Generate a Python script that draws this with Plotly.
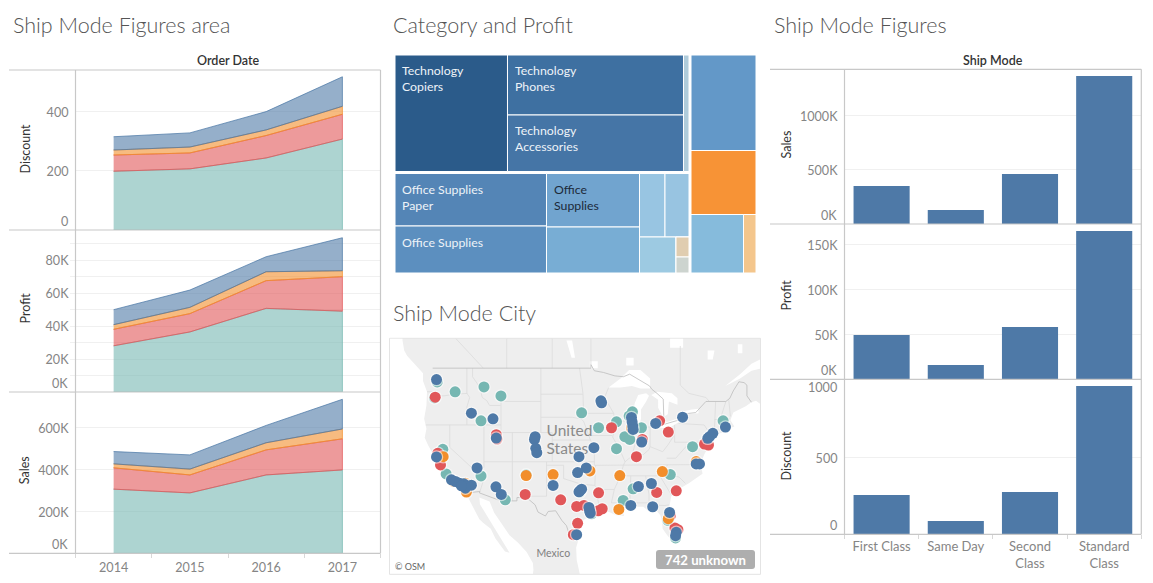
import numpy as np
import plotly.graph_objects as go

W, H = 1153, 583
FONT = "Lato"

# ---------- area panels ----------
years = [2014, 2015, 2016, 2017]
modes = ["Standard Class", "Second Class", "Same Day", "First Class"]
discount_by_mode = {
    "Standard Class": [199, 207, 244, 308],
    "Second Class": [55, 54, 76, 84],
    "Same Day": [17, 20, 19, 27],
    "First Class": [45, 48, 62, 100],
}
profit_by_mode = {
    "Standard Class": [28000, 36400, 50700, 49000],
    "Second Class": [10000, 11100, 16800, 20900],
    "Same Day": [2800, 3800, 5400, 3600],
    "First Class": [9100, 10500, 9100, 20000],
}
sales_by_mode = {
    "Standard Class": [307000, 289000, 375000, 399000],
    "Second Class": [102000, 86000, 120000, 149000],
    "Same Day": [19000, 28000, 34000, 47000],
    "First Class": [59000, 68000, 83000, 142000],
}
mode_colors = {
    "Standard Class": "118,183,178",
    "Second Class": "225,87,89",
    "Same Day": "242,142,43",
    "First Class": "78,121,167",
}

# ---------- bar panels ----------
ship_modes = ["First Class", "Same Day", "Second<br>Class", "Standard<br>Class"]
bar_sales = [349000, 129000, 460000, 1360000]
bar_profit = [49200, 15900, 58100, 164800]
bar_discount = [255, 86, 275, 963]

# ---------- treemap ----------
tm_ids = ["root", "left", "gapA", "furn", "tech", "gapB", "office",
          "techMain", "sliver", "techInner", "copiers", "phoneAcc", "phones", "access",
          "offA", "offB", "offC", "paper", "binders", "supplies", "storage",
          "offC1", "offC2", "c1a", "c1b", "c2a", "offC3", "tan", "gray",
          "furnTop", "furnOrange", "furnB", "furnBlue", "furnTan"]
tm_parents = ["", "root", "root", "root", "left", "left", "left",
              "tech", "tech", "techMain", "techInner", "techInner", "phoneAcc", "phoneAcc",
              "office", "office", "office", "offA", "offA", "offB", "offB",
              "offC", "offC", "offC1", "offC1", "offC2", "offC2", "offC3", "offC3",
              "furn", "furn", "furn", "furnB", "furnB"]
tm_values = [0, 0, 436, 0, 0, 588, 0,
             0, 641, 0, 13106, 0, 10560, 9944,
             0, 0, 0, 7954, 7120, 4976, 4278,
             0, 0, 1619, 1524, 1314, 0, 260, 208,
             6208, 4160, 0, 3071, 731]
tm_colors = ["#ffffff", "#ffffff", "#ffffff", "#ffffff", "#ffffff", "#ffffff", "#ffffff",
             "#ffffff", "#b0ccdb", "#ffffff", "#2b5b8a", "#ffffff", "#3e70a1", "#4575a6",
             "#ffffff", "#ffffff", "#ffffff", "#5485b6", "#5c8fbf", "#71a4cf", "#78add4",
             "#ffffff", "#ffffff", "#98c5e2", "#98c4e1", "#9dcae2", "#ffffff", "#e0cdb0", "#cdd4cf",
             "#6398c8", "#f79336", "#ffffff", "#86bbdc", "#f4c68c"]
tm_labels = ["Technology<br>Copiers", "Technology<br>Phones", "Technology<br>Accessories",
             "Office Supplies<br>Paper", "Office Supplies", "Office<br>Supplies"]

# ---------- map points (lon, projected northing) ----------
teal_lon = [-122.21, -122.68, -119.06, -113.99, -111.01, -114.51, -121.22, -120.64, -114.51, -110.25,
            -96.84, -90.71, -93.86, -87.91, -88.49, -86.33, -89.25, -88.38, -90.71, -77.35, -71.98,
            -81.26, -87.79, -89.54, -95.09, -106.58, -97.13, -81.67, -80.33]
teal_north = [53.69, 50.88, 51.94, 52.81, 51.23, 46.85, 41.82, 37.49, 37.14, 32.93,
              48.25, 46.67, 45.62, 48.43, 47.67, 45.62, 44.04, 43.57, 41.94, 42.29, 46.85,
              37.37, 34.86, 32.81, 30.47, 37.32, 34.28, 29.3, 26.2]
red_lon = [-122.56, -122.1, -121.63, -111.83, -111.71, -91.59, -83.13, -81.61, -86.16, -87.21, -75.25,
           -74.55, -106.75, -100.51, -93.86, -83.65, -80.21, -97.71, -96.43, -93.92, -93.22, -97.54,
           -98.29, -81.26, -80.44, -79.92]
red_north = [51.0, 41.12, 39.07, 44.39, 43.63, 45.62, 46.85, 44.86, 43.57, 40.53, 42.75,
             42.58, 33.87, 32.93, 34.16, 34.22, 34.51, 31.76, 31.94, 31.0, 31.35, 28.78,
             26.79, 30.12, 27.96, 27.67]
orange_lon = [-121.16, -106.58, -101.85, -95.38, -90.13, -82.66, -76.71, -90.3, -81.61, -117.08,
              -119.3, -117.25, -88.08]
orange_north = [40.53, 37.2, 37.37, 38.02, 37.2, 37.9, 39.66, 31.23, 29.6, 34.28,
                36.15, 35.85, 45.62]
blue_lon = [-122.33, -116.2, -112.41, -111.83, -122.33, -115.21, -111.89, -110.95, -105.0, -105.12,
            -104.89, -104.71, -93.45, -93.33, -94.68, -97.3, -96.02, -97.54, -101.85, -97.13, -96.84,
            -97.3, -95.55, -95.44, -95.32, -88.2, -84.35, -86.86, -84.58, -81.38, -80.21, -80.33,
            -97.71, -88.08, -87.97, -87.85, -87.79, -86.28, -83.83, -79.1, -74.37, -73.79, -74.67,
            -71.57, -76.71, -76.13, -119.7, -119.0, -118.3, -117.55, -116.96, -116.2, -117.25, -117.95]
blue_north = [54.1, 48.19, 47.2, 43.81, 40.47, 38.54, 35.21, 33.87, 44.04, 43.57,
              41.99, 41.23, 50.36, 50.01, 42.11, 40.53, 38.54, 37.73, 35.45, 34.51, 34.8,
              34.33, 31.59, 31.0, 30.59, 31.94, 31.7, 35.27, 35.8, 30.71, 27.2, 26.61,
              26.79, 47.43, 46.67, 45.91, 45.33, 43.11, 46.38, 47.49, 44.04, 44.63, 43.75,
              45.74, 39.25, 39.25, 36.44, 36.15, 35.85, 35.74, 35.39, 35.5, 34.98, 35.39]

# ---------- base map outlines (lon, lat) ----------
water_polys = [
    # Pacific and Gulf of California
    [(-128.3, 53), (-128.3, 52.1), (-128, 51), (-127.5, 50.4), (-125.5, 49), (-124.7, 48.4), (-124.7, 47.5),
     (-124, 46.2), (-124.1, 44.5), (-124.5, 42.8), (-124.1, 41.5), (-124.4, 40.3), (-123.8, 39.3), (-122.9, 38),
     (-122.4, 37.5), (-121.9, 36.6), (-120.6, 35), (-119.2, 34.1), (-118.4, 33.8), (-117.2, 32.6), (-116.6, 31.5),
     (-115.8, 30.2), (-114.8, 28.5), (-114.1, 27.9), (-112.8, 27), (-112, 25.5), (-110.3, 23.4), (-109.5, 23.2),
     (-110.7, 25), (-112.5, 27.5), (-113.5, 29), (-114.7, 30.8), (-114.8, 31.8), (-113, 31.2), (-112.2, 29.5),
     (-110.9, 27.9), (-109.5, 26), (-108, 24.8), (-106.5, 23.3), (-105.4, 21.5), (-105.3, 20.4), (-105.5, 19),
     (-132, 19), (-132, 53)],
    # Gulf of Mexico and Atlantic
    [(-97, 19), (-97.7, 22), (-97.8, 24), (-97.2, 25.9), (-97.4, 27.3), (-96.5, 28.4), (-95, 29.2), (-94, 29.7),
     (-92, 29.6), (-90.8, 29.1), (-89.4, 29), (-89.5, 30.2), (-88, 30.4), (-86, 30.4), (-85, 29.7), (-84, 30.1),
     (-83, 29.1), (-82.7, 28), (-82.6, 27), (-81.8, 26), (-81, 25.2), (-80.4, 25.2), (-80, 26.5), (-80.6, 28.3),
     (-81.4, 30.5), (-81.1, 32), (-79.5, 33.2), (-78, 33.9), (-76.6, 34.7), (-75.6, 35.3), (-75.9, 36.8),
     (-75.3, 38), (-74.2, 39.6), (-74, 40.6), (-72, 41), (-70.7, 41.6), (-70, 41.8), (-70.7, 42.6), (-70.2, 43.6),
     (-68, 44.4), (-67, 44.9), (-66.2, 45.1), (-65.5, 44.7), (-64, 44.9), (-64, 19)],
    # St Lawrence
    [(-71.6, 46.9), (-69, 48.3), (-67, 49.5), (-65.5, 50), (-64, 50.3), (-64, 49), (-65, 49), (-67, 48.7),
     (-69, 47.8), (-71.6, 46.9)],
    # Great Lakes
    [(-92.1, 46.7), (-90, 47.8), (-88.5, 48.8), (-86.5, 48.8), (-84.8, 47.8), (-84.8, 46.6), (-86.5, 46.6),
     (-88, 46.9), (-90, 46.7)],
    [(-87.7, 41.7), (-87.9, 43), (-87.5, 44.8), (-86.9, 45.8), (-85.5, 46), (-85, 45.7), (-85.5, 45), (-86.4, 44),
     (-86.4, 42.8), (-86.8, 41.8)],
    [(-84.6, 45.8), (-83.4, 45.2), (-83.4, 44.2), (-82.5, 43), (-81.7, 43.4), (-81.5, 45), (-80, 44.6), (-80, 45.4),
     (-81, 46), (-83.5, 46.2)],
    [(-83.4, 41.7), (-81.7, 41.5), (-79, 42.7), (-79, 42.9), (-80.5, 42.7), (-83, 42.1)],
    [(-79.7, 43.3), (-76.3, 43.5), (-76.3, 44.1), (-77.5, 44), (-79.4, 43.7)],
    # Northern lakes and James Bay
    [(-99.5, 52.1), (-98.5, 52.1), (-98, 50.2), (-98.6, 50.2)],
    [(-95.4, 49.8), (-94, 49.8), (-94, 49), (-95.4, 49)],
    [(-89, 50.2), (-87.7, 50.2), (-87.7, 49.3), (-89, 49.3)],
    [(-81.3, 53), (-79, 53), (-79, 51.3), (-81.3, 51.3)],
    [(-74.7, 51), (-73.5, 51), (-73.8, 50), (-74.7, 50)],
    [(-69.4, 51.7), (-68.6, 51.7), (-68.6, 50.7), (-69.4, 50.7)],
]
national_lines = [
    [(-123, 49), (-95.2, 49), (-95.2, 49.4), (-94.6, 48.7), (-93, 48.5), (-91, 48.1), (-89.5, 48), (-88.4, 48.3),
     (-84.9, 46.9), (-84.5, 46.5), (-83.6, 46), (-82.5, 45.3), (-82.4, 43), (-83, 42.2), (-83.2, 41.9), (-79, 42.8),
     (-79.1, 43.4), (-76.8, 43.6), (-75, 45), (-71.5, 45), (-70.8, 45.4), (-70.2, 46.3), (-69.2, 47.4), (-68.3, 47.3),
     (-67.8, 47), (-67.8, 45.7), (-67, 44.9)],
    [(-117.1, 32.5), (-114.7, 32.7), (-114.8, 32.5), (-111, 31.3), (-108.2, 31.3), (-108.2, 31.8), (-106.5, 31.8),
     (-105, 30.7), (-104.5, 29.6), (-103.2, 29), (-102.7, 29.7), (-101.4, 29.8), (-100.3, 28.3), (-99.5, 27.5),
     (-99.1, 26.4), (-97.2, 25.9)],
]
state_lines = [
    [(-124, 46.2), (-123, 46.2), (-122.8, 45.7), (-121, 45.7), (-119, 45.9), (-116.9, 46)],
    [(-117, 49), (-117, 46), (-116.5, 45.5), (-117, 44.3), (-117, 42)],
    [(-124.2, 42), (-111, 42)],
    [(-120, 42), (-120, 39), (-114.6, 35), (-114.1, 34.3), (-114.7, 32.7)],
    [(-114, 42), (-114, 36.2), (-114.6, 36.1), (-114.6, 35)],
    [(-116, 49), (-116, 48), (-114.7, 46.7), (-114.3, 45.5), (-113.5, 45.1), (-113, 44.5), (-111.1, 44.5)],
    [(-111, 45), (-104, 45)],
    [(-111, 45), (-111, 41), (-102, 41), (-102, 37)],
    [(-109, 41), (-109, 31.3)],
    [(-114, 37), (-94.6, 37)],
    [(-103, 37), (-103, 32), (-106.6, 32)],
    [(-104, 43), (-98.5, 43), (-97, 42.8), (-96.5, 42.5), (-96, 41.5), (-95.3, 40)],
    [(-104, 45.9), (-96.6, 45.9)],
    [(-104, 49), (-104, 41)],
    [(-102, 40), (-95.3, 40), (-94.6, 39.1), (-94.6, 36.5)],
    [(-103, 36.5), (-100, 36.5), (-100, 34.6), (-97, 33.8), (-94.5, 33.6), (-94, 33), (-94, 31.5), (-93.6, 30)],
    [(-94.4, 36.5), (-94.5, 33.6)],
    [(-97.2, 49), (-96.6, 46), (-96.5, 43.5), (-91.2, 43.5)],
    [(-92.1, 46.7), (-92.8, 45.5), (-91.2, 43.5), (-91, 41.5), (-91.4, 40.4), (-90.2, 38.8), (-89.2, 37), (-89.5, 36.5),
     (-90, 35), (-91.1, 33), (-91.6, 31), (-89.7, 31), (-89.5, 30.2)],
    [(-95.8, 40.6), (-91.5, 40.6)],
    [(-94.6, 36.5), (-89.5, 36.5), (-81.7, 36.6), (-75.9, 36.6)],
    [(-94, 33), (-91.1, 33)],
    [(-90.6, 42.5), (-87.8, 42.5)],
    [(-87.5, 41.7), (-87.5, 39.3), (-88, 37.8)],
    [(-89.2, 37), (-88, 37.8), (-86, 38), (-85, 38.7), (-84.8, 39.1), (-82.6, 38.4), (-81.7, 39.3), (-80.6, 40.6)],
    [(-84.8, 39.1), (-84.8, 41.7)],
    [(-87, 41.75), (-83.4, 41.7)],
    [(-80.5, 42), (-80.5, 39.7), (-75.8, 39.7)],
    [(-79.8, 42.2), (-75.3, 42), (-74.7, 41.3), (-75.1, 40.9), (-75.5, 39.8)],
    [(-90, 35), (-83.1, 35), (-81.7, 36.6)],
    [(-88.2, 35), (-88.4, 30.3)],
    [(-85.6, 35), (-85, 32.3), (-85, 31), (-87.6, 31), (-87.4, 30.4)],
    [(-85, 31), (-84.9, 30.7), (-82.2, 30.6), (-81.5, 30.7)],
    [(-83.1, 35), (-81, 32.1)],
    [(-83.1, 35), (-81, 35.1), (-79.7, 34.8), (-78.6, 33.9)],
    [(-81.9, 37.5), (-80.3, 37.5), (-78.4, 39.2)],
    [(-73.3, 45), (-73.5, 41.3), (-71.8, 41.4), (-71.8, 42)],
    [(-73.5, 42.7), (-70.8, 42.8)],
    [(-72.5, 42.7), (-71.5, 45)],
    [(-70.7, 43.1), (-71, 45.3)],
    [(-120, 53), (-114.1, 49)],
    [(-110, 49), (-110, 53)],
    [(-102, 49), (-102, 53)],
    [(-95.2, 49.4), (-95.2, 53)],
    [(-79.5, 51.5), (-79.5, 47), (-78, 46), (-75, 45.5), (-74.4, 45)],
]


def north(lat):
    lat = np.asarray(lat, dtype=float)
    return np.degrees(np.log(np.tan(np.pi / 4 + np.radians(lat) / 2))) - 0.25


def px(x):
    return x / W


def py(y):
    return 1 - y / H


fig = go.Figure()
annotations = []
shapes = []
GRID = "#f0f0f0"
FRAME = "#c8c8c8"
TICK = "#858585"
TS = 12.6


def note(text, x, y, size=12, color=TICK, xanchor="center", yanchor="middle", angle=0, **font):
    annotations.append(dict(text=text, x=px(x), y=py(y), xref="paper", yref="paper", showarrow=False,
                            xanchor=xanchor, yanchor=yanchor, textangle=angle, borderpad=0, align="left",
                            font=dict(family=FONT, size=size, color=color, **font)))


def hline(x0, x1, y):
    shapes.append(dict(type="line", xref="paper", yref="paper", x0=px(x0), x1=px(x1), y0=py(y), y1=py(y),
                       line=dict(color=FRAME, width=1.2), layer="above"))


def vline(x, y0, y1):
    shapes.append(dict(type="line", xref="paper", yref="paper", x0=px(x), x1=px(x), y0=py(y0), y1=py(y1),
                       line=dict(color=FRAME, width=1.2), layer="above"))


layout_axes = {}

# ---------- area panels ----------
AL, AR = 75.5, 380.5
area_panels = [
    (discount_by_mode, 70, 230, 542, [200, 400], ["200", "400"], None, "Discount", "0", 221.7),
    (profit_by_mode, 230, 392, 98200, [20000, 40000, 60000, 80000], ["20K", "40K", "60K", "80K"], 10000, "Profit", "0K", 383.3),
    (sales_by_mode, 392, 553.3, 772000, [200000, 400000, 600000], ["200K", "400K", "600K"], None, "Sales", "0K", 544.3),
]
for i, (data, top, bot, ymax, tv, tt, minor_step, name, zero, zero_y) in enumerate(area_panels):
    n = i + 1
    cum = np.zeros(4)
    for m in modes:
        upper = cum + np.array(data[m], dtype=float)
        rgb = mode_colors[m]
        fig.add_trace(go.Scatter(
            x=years + years[::-1], y=list(upper) + list(cum[::-1]), mode="lines", fill="toself",
            fillcolor=f"rgba({rgb},0.6)", line=dict(color=f"rgba({rgb},0.75)", width=1),
            xaxis=f"x{n}", yaxis=f"y{n}", hoverinfo="skip", showlegend=False))
        cum = upper
    last = i == 2
    layout_axes[f"xaxis{n}"] = dict(
        domain=[px(AL), px(AR)], range=[2013.5, 2017.5], anchor=f"y{n}", showgrid=False, zeroline=False,
        tickmode="array", tickvals=years if last else [], ticktext=[str(y) for y in years] if last else [],
        ticks="", showline=False, tickfont=dict(family=FONT, size=TS, color=TICK), ticklabelstandoff=5,
        minor=dict(tickmode="array", tickvals=[2013.5, 2014.5, 2015.5, 2016.5, 2017.5] if last else [],
                   ticks="outside" if last else "", ticklen=4, tickcolor="#d8d8d8", showgrid=False))
    y_cfg = dict(
        domain=[py(bot), py(top)], range=[0, ymax], anchor=f"x{n}", zeroline=False, showline=False,
        tickmode="array", tickvals=tv, ticktext=tt, ticks="", showgrid=True, gridcolor=GRID, gridwidth=1,
        tickfont=dict(family=FONT, size=TS, color=TICK), ticklabelstandoff=6, ticklabelshift=1)
    if minor_step:
        y_cfg["minor"] = dict(dtick=minor_step, tick0=0, showgrid=True, gridcolor=GRID, ticks="outside",
                              ticklen=5, tickcolor=GRID)
    layout_axes[f"yaxis{n}"] = y_cfg
    hline(9, AR, top)
    note(name, 24.5, (top + bot) / 2 + {0: -1, 1: -3, 2: -2}[i], size=12.5, color="#333333", angle=-90)
    note(zero, 68.5, zero_y, size=TS, xanchor="right")
hline(9, AR, 553.3)
vline(AL, 70, 553.3)
vline(AR, 70, 553.3)

# ---------- bar panels ----------
BL, BR = 844.5, 1141.3
bar_panels = [
    (bar_sales, 69.3, 224, 1422000, [500000, 1000000], ["500K", "1000K"], "Sales", "0K", 215.7, 145),
    (bar_profit, 224, 379.3, 172500, [50000, 100000, 150000], ["50K", "100K", "150K"], "Profit", "0K", 370.3, 295),
    (bar_discount, 379.3, 534.3, 1006, [500, 1000], ["500", ""], "Discount", "0", 525.7, 456),
]
for i, (vals, top, bot, ymax, tv, tt, name, zero, zero_y, name_y) in enumerate(bar_panels):
    n = i + 4
    fig.add_trace(go.Bar(x=[0, 1, 2, 3], y=vals, marker=dict(color="#4e79a7", line=dict(width=0)), width=0.756,
                         xaxis=f"x{n}", yaxis=f"y{n}", hoverinfo="skip", showlegend=False))
    last = i == 2
    layout_axes[f"xaxis{n}"] = dict(
        domain=[px(BL), px(BR)], range=[-0.5, 3.5], anchor=f"y{n}", showgrid=False, zeroline=False,
        tickmode="array", tickvals=[0, 1, 2, 3] if last else [], ticktext=ship_modes if last else [],
        ticks="", tickangle=0, tickfont=dict(family=FONT, size=13, color=TICK), ticklabelstandoff=3,
        minor=dict(tickmode="array", tickvals=[-0.5, 0.5, 1.5, 2.5, 3.5] if last else [],
                   ticks="outside" if last else "", ticklen=4, tickcolor="#d8d8d8", showgrid=False))
    layout_axes[f"yaxis{n}"] = dict(
        domain=[py(bot), py(top)], range=[0, ymax], anchor=f"x{n}", zeroline=False, showline=False,
        tickmode="array", tickvals=tv, ticktext=tt, ticks="", showgrid=True, gridcolor=GRID,
        tickfont=dict(family=FONT, size=TS, color=TICK), ticklabelstandoff=6, ticklabelshift=1)
    hline(770, BR, top)
    note(name, 785.5, name_y, size=12.5, color="#333333", angle=-90)
    note(zero, 837.5, zero_y, size=TS, xanchor="right")
note("1000", 837.5, 387, size=TS, xanchor="right")
hline(770, BR, 534.3)
vline(BL, 69.3, 534.3)
vline(BR, 69.3, 534.3)

# ---------- treemap ----------
fig.add_trace(go.Treemap(
    ids=tm_ids, labels=tm_ids, parents=tm_parents, values=tm_values, branchvalues="remainder", sort=False,
    textinfo="none",
    marker=dict(colors=tm_colors, line=dict(color="#ffffff", width=1), pad=dict(t=0, l=0, r=0, b=0), depthfade=False),
    pathbar=dict(visible=False), tiling=dict(packing="slice-dice", pad=0),
    domain=dict(x=[px(395), px(756)], y=[py(273), py(55)]), hoverinfo="skip"))
TMC = "#eef3f8"
for label, x, y, col in zip(tm_labels,
                            [401, 514, 514, 401, 401, 553],
                            [62, 62, 122, 181, 234, 181],
                            [TMC, TMC, TMC, TMC, TMC, "#1c2a3a"]):
    note(label, x, y, size=12.3, color=col, xanchor="left", yanchor="top")

# ---------- map ----------
ML, MR, MT, MB = 389.5, 760.5, 338.3, 574.3
LAND = "#eeeeee"
shapes.append(dict(type="rect", xref="paper", yref="paper", x0=px(ML), x1=px(MR), y0=py(MB), y1=py(MT),
                   fillcolor=LAND, line=dict(color="#e4e4e4", width=1), layer="below"))
for poly in water_polys:
    a = np.array(poly)
    fig.add_trace(go.Scatter(x=a[:, 0], y=north(a[:, 1]), mode="lines", fill="toself", fillcolor="#ffffff",
                             line=dict(width=0), xaxis="x7", yaxis="y7", hoverinfo="skip", showlegend=False))


def line_trace(lines, color, width):
    xs, ys = [], []
    for seg in lines:
        a = np.array(seg)
        xs += list(a[:, 0]) + [None]
        ys += list(north(a[:, 1])) + [None]
    fig.add_trace(go.Scatter(x=xs, y=ys, mode="lines", line=dict(color=color, width=width),
                             xaxis="x7", yaxis="y7", hoverinfo="skip", showlegend=False))


line_trace(state_lines, "#dcdcdc", 0.8)
line_trace(national_lines, "#bcbcbc", 0.8)
fig.add_trace(go.Scatter(x=[-103.0, -103.0], y=[44.9, 41.75], mode="text", text=["United", "States"],
                         textposition="middle right", textfont=dict(family=FONT, size=15.5, color="#8a8a8a"),
                         xaxis="x7", yaxis="y7", hoverinfo="skip", showlegend=False))
fig.add_trace(go.Scatter(x=[-101.8], y=[23.3], mode="text", text=["Mexico"], textposition="middle center",
                         textfont=dict(family=FONT, size=10.5, color="#808080"),
                         xaxis="x7", yaxis="y7", hoverinfo="skip", showlegend=False))
for lon, nor, col in [(teal_lon, teal_north, "#76b7b2"), (red_lon, red_north, "#e15759"),
                      (orange_lon, orange_north, "#f28e2b"), (blue_lon, blue_north, "#4e79a7")]:
    fig.add_trace(go.Scatter(x=lon, y=nor, mode="markers",
                             marker=dict(color="rgba(255,255,255,0.55)", size=13.5, line=dict(width=0)),
                             xaxis="x7", yaxis="y7", hoverinfo="skip", showlegend=False))
    fig.add_trace(go.Scatter(x=lon, y=nor, mode="markers",
                             marker=dict(color=col, size=11, line=dict(width=0)),
                             xaxis="x7", yaxis="y7", hoverinfo="skip", showlegend=False))
layout_axes["xaxis7"] = dict(domain=[px(ML + 0.5), px(MR - 0.5)], range=[-130.5, -65.5], anchor="y7", visible=False)
layout_axes["yaxis7"] = dict(domain=[py(MB - 0.5), py(MT + 0.5)], range=[19.89, 61.29], anchor="x7", visible=False)
shapes.append(dict(type="path", xref="paper", yref="paper", layer="above", fillcolor="#aeaeae", line=dict(width=0),
                   path=f"M {px(659)} {py(550)} L {px(752)} {py(550)} Q {px(755)} {py(550)} {px(755)} {py(553)} "
                        f"L {px(755)} {py(566)} Q {px(755)} {py(569)} {px(752)} {py(569)} L {px(659)} {py(569)} "
                        f"Q {px(656)} {py(569)} {px(656)} {py(566)} L {px(656)} {py(553)} Q {px(656)} {py(550)} {px(659)} {py(550)} Z"))
note("742 unknown", 705.5, 559.5, size=13.2, color="#ffffff", weight="bold")
note("© OSM", 393.5, 566.5, size=9, color="#666666", xanchor="left")

# ---------- titles ----------
TITLE = "#555555"
note("Ship Mode Figures area", 11.5, 24.5, size=21.5, color=TITLE, xanchor="left", weight=300)
note("Category and Profit", 391.5, 24.5, size=21.5, color=TITLE, xanchor="left", weight=300)
note("Ship Mode City", 391.5, 312.5, size=21.5, color=TITLE, xanchor="left", weight=300)
note("Ship Mode Figures", 772.5, 24.5, size=21.5, color=TITLE, xanchor="left", weight=300)
note("Order Date", 228, 60, size=12.5, color="#333333", weight=600)
note("Ship Mode", 993, 60, size=12.5, color="#333333", weight=600)

fig.update_layout(width=W, height=H, margin=dict(l=0, r=0, t=0, b=0), paper_bgcolor="#ffffff", plot_bgcolor="rgba(0,0,0,0)",
                  annotations=annotations, shapes=shapes, showlegend=False, barmode="overlay",
                  font=dict(family=FONT), **layout_axes)
fig.write_html("out.html", config=dict(displayModeBar=False),
               post_script="document.body.style.margin='0';document.documentElement.style.overflow='hidden';")
